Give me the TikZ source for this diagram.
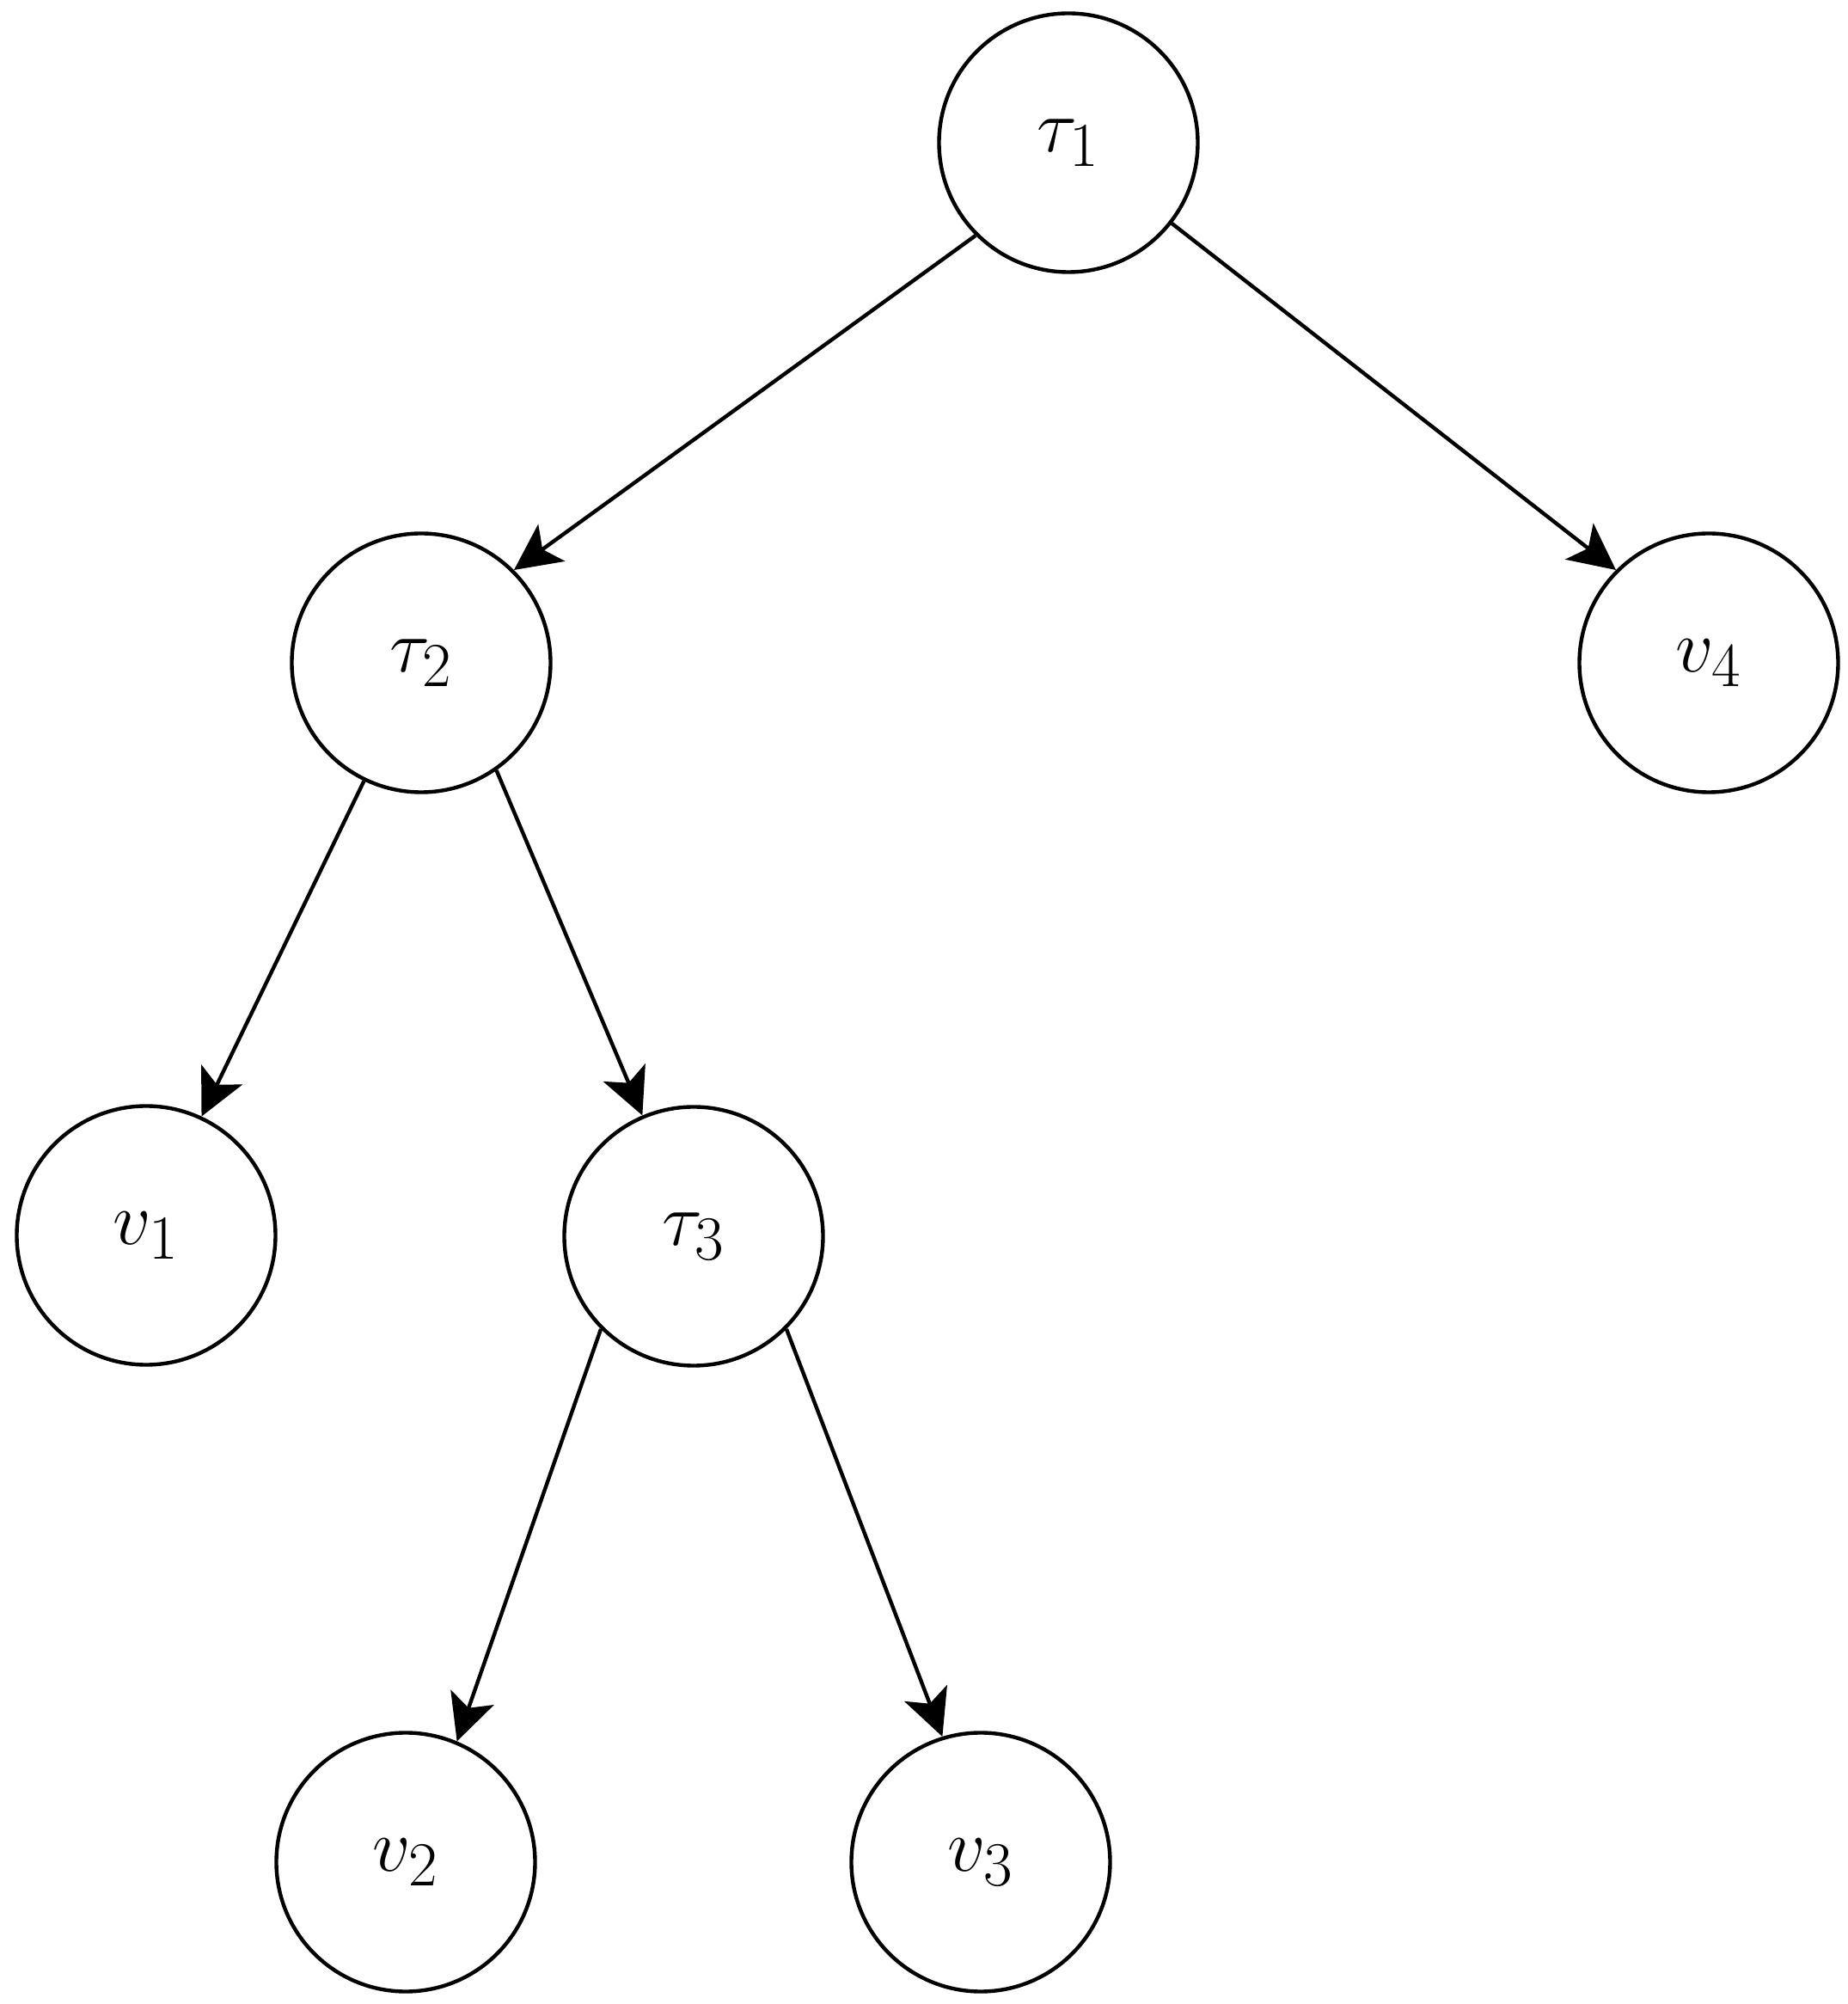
\documentclass[tikz,border=0pt]{standalone}
\usepackage{amsmath}
\usetikzlibrary{arrows.meta}

\begin{document}
\begin{tikzpicture}[
    vertex/.style={draw,circle,minimum size=3.01cm,inner sep=0pt,line width=1.25pt,
      font=\Huge},
    arc/.style={line width=1.25pt,-{Stealth[length=0.54cm,width=0.53cm,inset=0.13cm]}}]%
      \useasboundingbox (0, 0) rectangle (21.5, 23.31);%
      \foreach \n/\x/\y/\l in {t1/12.43/21.65/\tau_1, t2/4.90/15.60/\tau_2,
        v4/19.88/15.60/v_4, v1/1.70/8.94/v_1, t3/8.07/8.93/\tau_3,
        v2/4.72/1.65/v_2, v3/11.41/1.65/v_3}{%
        \node[vertex] (\n) at (\x,\y) {$\l$};
      }
      \foreach \a/\b in {t1.south west/t2.north east, t1/v4.north west,
        t2/v1.65, t2.-55/t3.113, t3.south west/v2.67, t3.south east/v3.107}{%
        \draw[arc] (\a) -- (\b);
      }
    \end{tikzpicture}
\end{document}
